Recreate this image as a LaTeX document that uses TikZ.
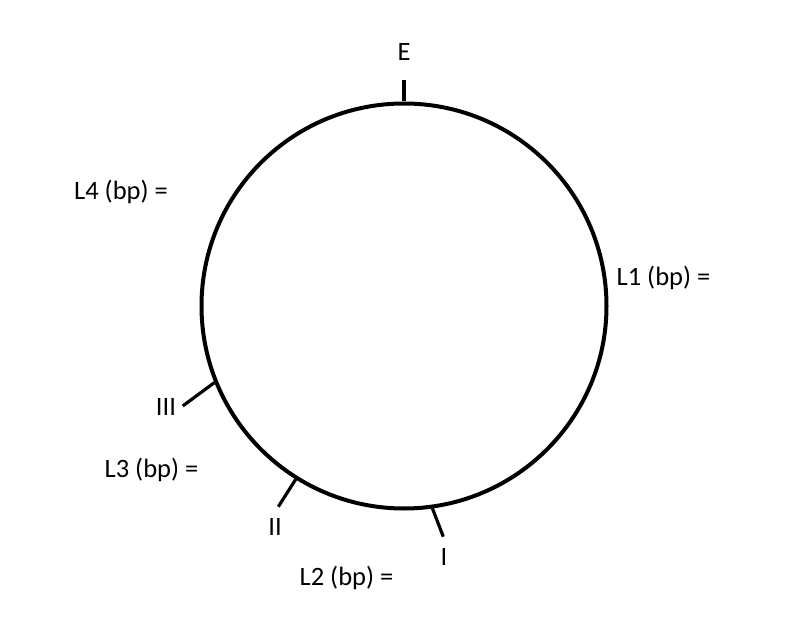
\documentclass[tikz,border=0pt]{standalone}
\usepackage{fontspec}
\setmainfont{Carlito}
\begin{document}
\begin{tikzpicture}[x=1pt,y=-1pt,
  lbl/.style={font=\fontsize{26.5}{31}\selectfont, inner sep=0pt},
  ring/.style={circle, draw, line width=4pt, minimum size=405pt, inner sep=0pt},
  tick/.style={line width=3.2pt}]
\useasboundingbox (0,0) rectangle (804,618);
\node[ring] (c) at (404,306) {};
\coordinate (tE) at (404,80);
\coordinate (tIII) at (182.7,406);
\coordinate (tII) at (278.3,506.7);
\coordinate (tI) at (443.3,536.7);
\draw[tick] (c.90) -- (tE);
\draw[tick] (c.202.6) -- (tIII);
\draw[tick] (c.238.3) -- (tII);
\draw[tick] (c.278.3) -- (tI);
\node[lbl] (E) at (404,52) {E};
\node[lbl] (III) at (166,407) {III};
\node[lbl] (II) at (275,527) {II};
\node[lbl] (I) at (444,557) {I};
\node[lbl] (L4) at (121,192) {L4 (bp) =};
\node[lbl] (L1) at (663.5,278) {L1 (bp) =};
\node[lbl] (L3) at (151.5,470) {L3 (bp) =};
\node[lbl] (L2) at (346.5,578) {L2 (bp) =};
\end{tikzpicture}
\end{document}
